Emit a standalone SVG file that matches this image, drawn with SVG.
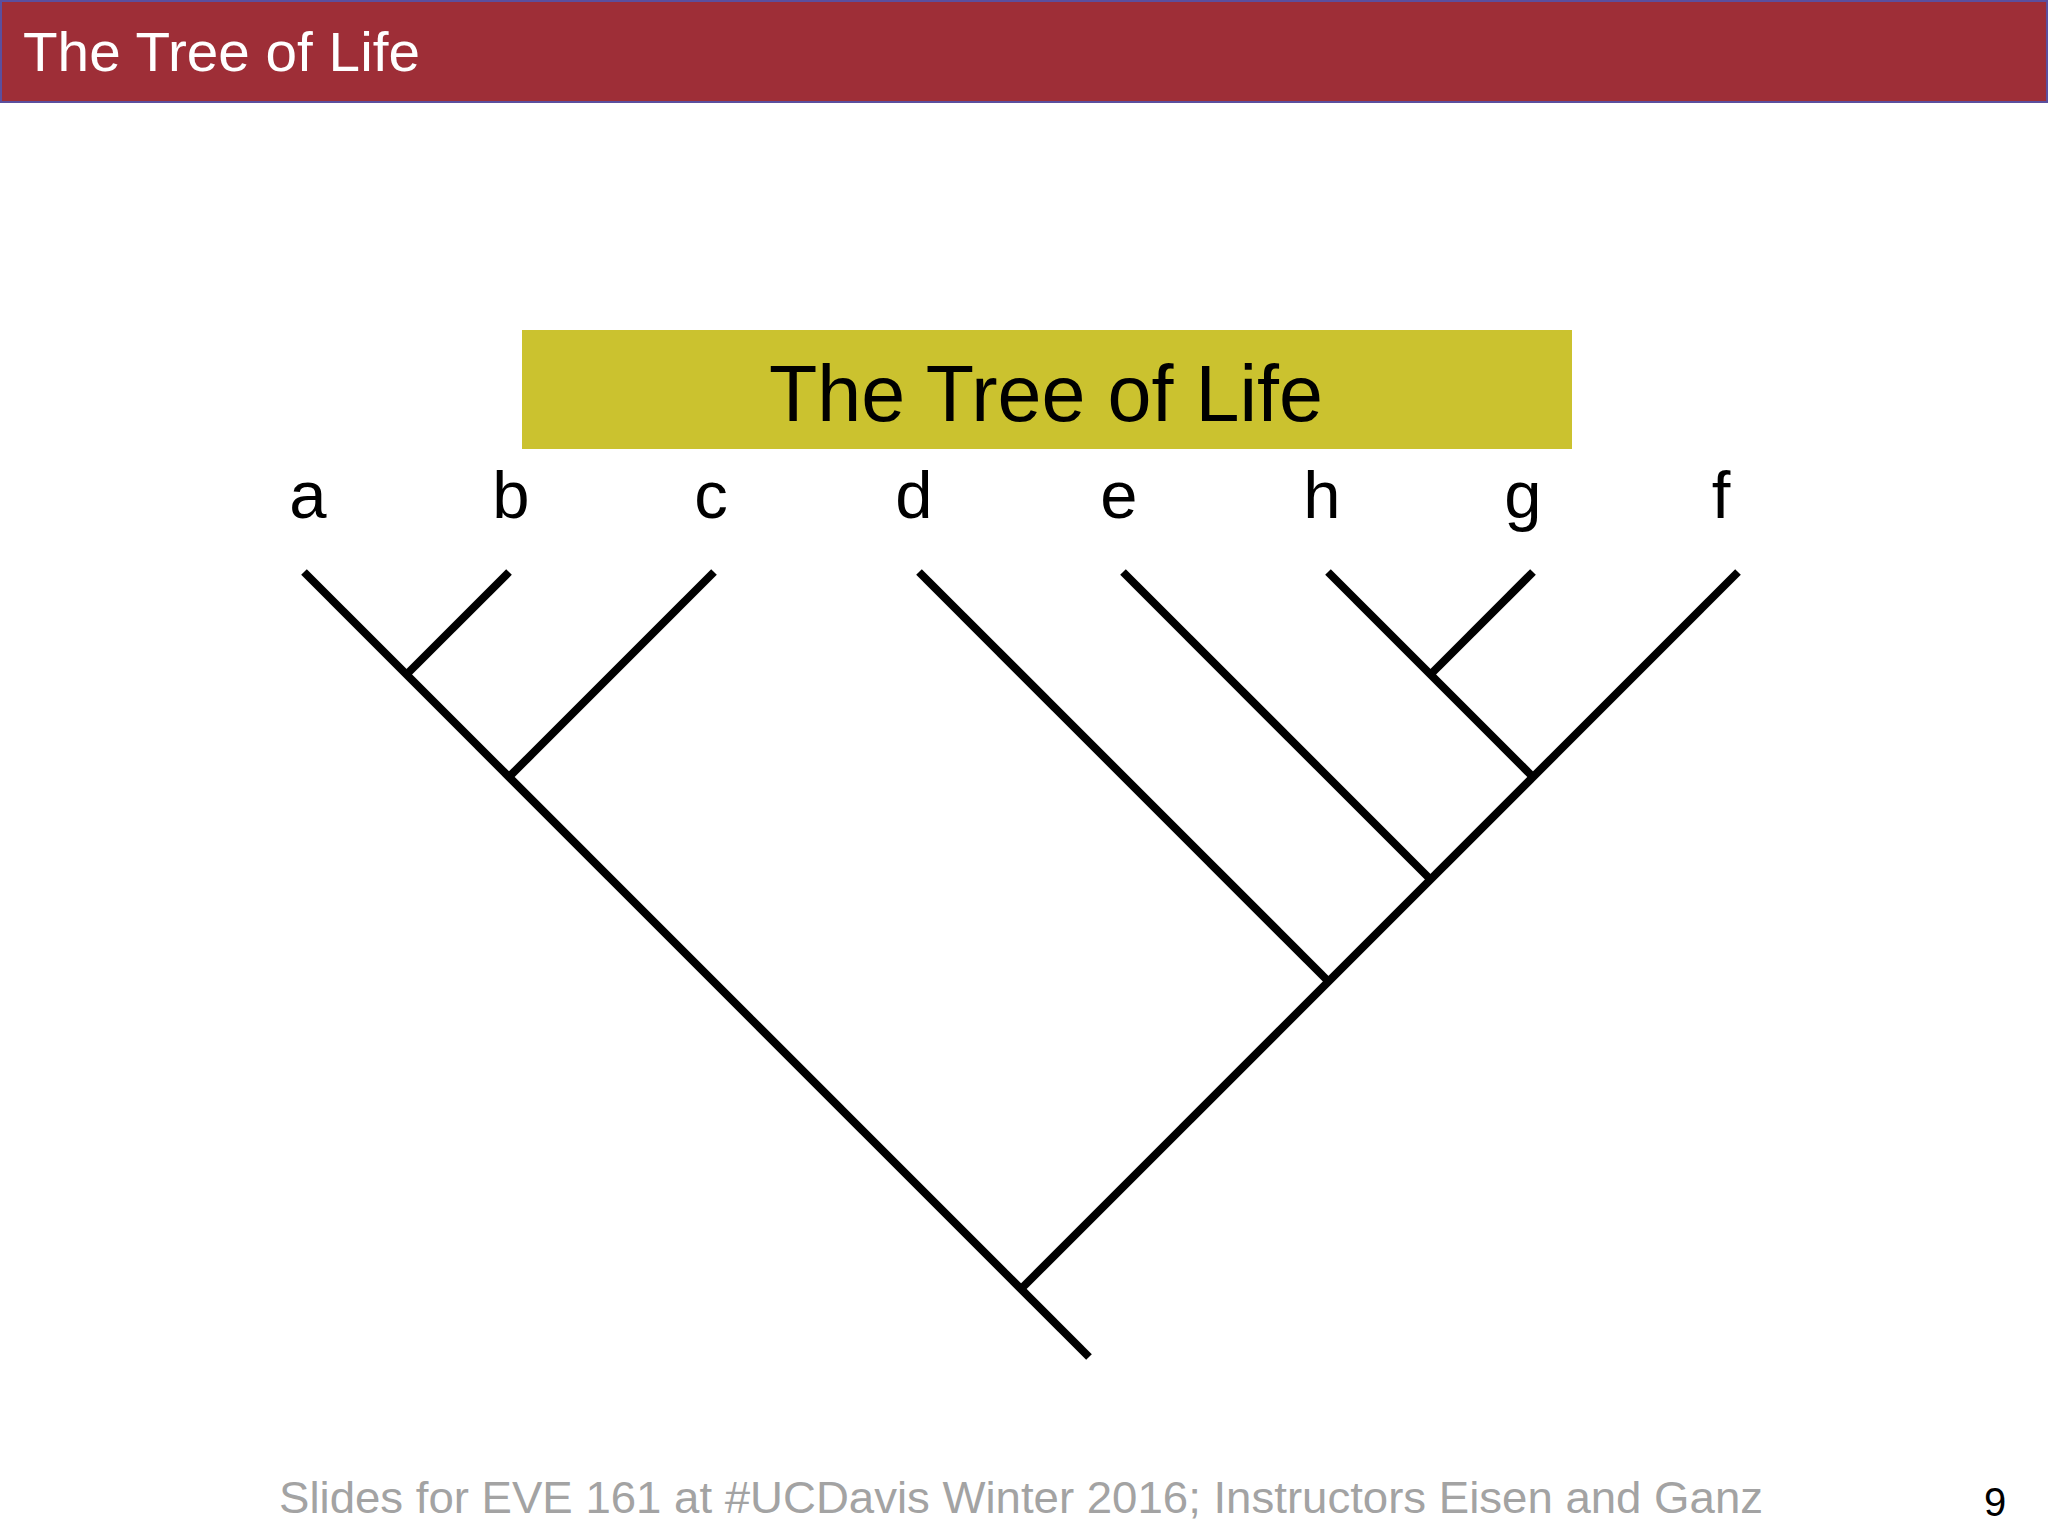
<svg xmlns="http://www.w3.org/2000/svg" width="2048" height="1536" viewBox="0 0 2048 1536">
  <style>
    .hdr { font-family: "Liberation Sans", Arial, sans-serif; font-size: 56px; fill: #ffffff; }
    .box-title { font-family: "Liberation Sans", Arial, sans-serif; font-size: 80px; fill: #000000; }
    .tip { font-family: "Liberation Sans", Arial, sans-serif; font-size: 67px; fill: #000000; text-anchor: middle; }
    .foot { font-family: "Liberation Sans", Arial, sans-serif; font-size: 45px; fill: #a3a3a3; }
    .pg { font-family: "Liberation Sans", Arial, sans-serif; font-size: 40px; fill: #000000; text-anchor: middle; }
    .branch { stroke: #000000; stroke-width: 8; stroke-linecap: butt; fill: none; }
  </style>
  <rect x="0" y="0" width="2048" height="1536" fill="#ffffff"/>

  <g id="header">
    <rect x="1" y="1" width="2046" height="101" fill="#9e2e37" stroke="#5b4f9e" stroke-width="2"/>
    <text class="hdr" x="23" y="71" textLength="397" lengthAdjust="spacingAndGlyphs">The Tree of Life</text>
  </g>

  <g id="title-box">
    <rect x="522" y="330" width="1050" height="119" fill="#cbc22f"/>
    <text class="box-title" x="1046" y="421" text-anchor="middle" textLength="554" lengthAdjust="spacingAndGlyphs">The Tree of Life</text>
  </g>

  <g id="labels">
    <g id="tip-a"><text class="tip" x="308" y="518">a</text></g>
    <g id="tip-b"><text class="tip" x="511" y="518">b</text></g>
    <g id="tip-c"><text class="tip" x="711" y="518">c</text></g>
    <g id="tip-d"><text class="tip" x="914" y="518">d</text></g>
    <g id="tip-e"><text class="tip" x="1119" y="518">e</text></g>
    <g id="tip-h"><text class="tip" x="1322" y="518">h</text></g>
    <g id="tip-g"><text class="tip" x="1523" y="518">g</text></g>
    <g id="tip-f"><text class="tip" x="1721" y="518">f</text></g>
  </g>

  <g id="connectors">
    <!-- left clade -->
    <line class="branch" x1="304" y1="572" x2="1089" y2="1357"/>
    <line class="branch" x1="509" y1="572" x2="406.5" y2="674.5"/>
    <line class="branch" x1="714" y1="572" x2="509" y2="777"/>
    <!-- right clade -->
    <line class="branch" x1="1738" y1="572" x2="1021" y2="1289"/>
    <line class="branch" x1="919" y1="572" x2="1328.5" y2="981.5"/>
    <line class="branch" x1="1123" y1="572" x2="1430.5" y2="879.5"/>
    <line class="branch" x1="1328" y1="572" x2="1533" y2="777"/>
    <line class="branch" x1="1533" y1="572" x2="1430.5" y2="674.5"/>
  </g>

  <g id="footer">
    <text class="foot" x="279" y="1513" textLength="1484" lengthAdjust="spacingAndGlyphs">Slides for EVE 161 at #UCDavis Winter 2016; Instructors Eisen and Ganz</text>
    <text class="pg" x="1995" y="1516">9</text>
  </g>
</svg>
